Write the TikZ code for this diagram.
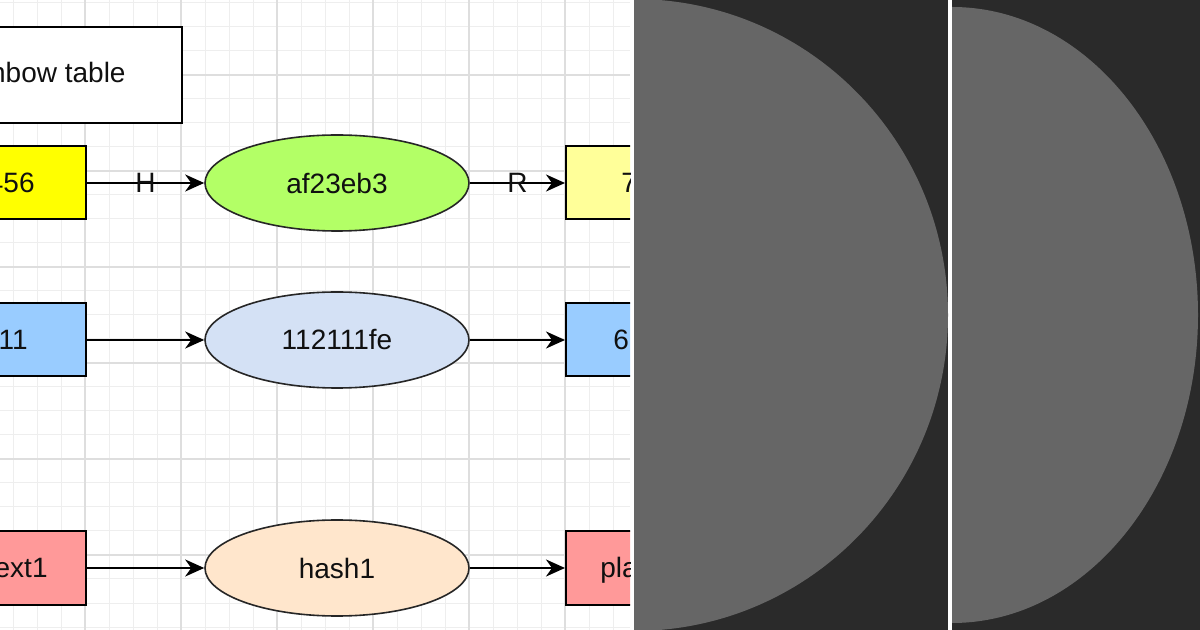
\documentclass[tikz,border=0pt]{standalone}
\usepackage{fontspec}
\setmainfont{Liberation Sans}
\usetikzlibrary{shapes.geometric,arrows.meta}
\definecolor{gridminor}{RGB}{238,238,238}
\definecolor{gridmajor}{RGB}{222,222,222}
\definecolor{yellowA}{HTML}{FFFF00}
\definecolor{yellowB}{HTML}{FFFF99}
\definecolor{greenA}{HTML}{B3FF66}
\definecolor{blueA}{HTML}{99CCFF}
\definecolor{blueB}{HTML}{D4E1F5}
\definecolor{pinkA}{HTML}{FF9999}
\definecolor{peachA}{HTML}{FFE6CC}
\definecolor{darkbg}{HTML}{2A2A2A}
\definecolor{semigray}{HTML}{666666}
\definecolor{inkc}{HTML}{101010}
\begin{document}
\begin{tikzpicture}[x=0.5pt,y=-0.5pt,
  box/.style={draw=black, line width=1pt, minimum width=74pt, minimum height=36.5pt, inner sep=0pt},
  oval/.style={ellipse, draw=black!85, line width=0.8pt, minimum width=132pt, minimum height=48pt, inner sep=0pt,
    font=\fontsize{14pt}{16pt}\selectfont, text=inkc},
  txt/.style={font=\fontsize{14pt}{16pt}\selectfont, text=inkc, inner sep=0pt},
  arr/.style={line width=1.1pt, -{Stealth[length=9.5pt,width=8.5pt,inset=3pt]}},
  lbl/.style={font=\fontsize{14pt}{16pt}\selectfont, inner sep=0pt, text=inkc}
]
\useasboundingbox (0,0) rectangle (1200,630);
\fill[white] (0,0) rectangle (1200,630);

% left panel
\begin{scope}
\clip (0,0) rectangle (630,630);
\foreach \g in {13,37,...,630} \draw[gridminor, line width=0.5pt] (\g,0) -- (\g,630);
\foreach \g in {3,27,...,630} \draw[gridminor, line width=0.5pt] (0,\g) -- (630,\g);
\foreach \g in {85,181,...,630} \draw[gridmajor, line width=0.6pt] (\g,0) -- (\g,630);
\foreach \g in {75,171,...,630} \draw[gridmajor, line width=0.6pt] (0,\g) -- (630,\g);

% title box
\node[draw=black, line width=1pt, fill=white, minimum width=137.5pt, minimum height=48pt, inner sep=0pt] (title) at (44,75) {};
\node[txt, anchor=base east] (titletxt) at (126,83) {rainbow table};

% row 1
\node[box, fill=yellowA] (a1) at (12,183) {};
\node[txt, anchor=base east] (a1t) at (35,193) {456};
\node[oval, fill=greenA] (e1) at (337,183) {af23eb3};
\node[box, fill=yellowB] (c1) at (640,183) {};
\node[txt, anchor=base west] (c1t) at (621,193) {7};
\draw[arr] (a1.east) -- (e1.west) node[lbl, midway] (h1) {H};
\draw[arr] (e1.east) -- (c1.west) node[lbl, midway] (r1) {R};

% row 2
\node[box, fill=blueA] (a2) at (12,340) {};
\node[txt, anchor=base east] (a2t) at (28,350) {11};
\node[oval, fill=blueB] (e2) at (337,340) {112111fe};
\node[box, fill=blueA] (c2) at (640,340) {};
\node[txt, anchor=base west] (c2t) at (613,350) {6};
\draw[arr] (a2.east) -- (e2.west);
\draw[arr] (e2.east) -- (c2.west);

% row 3
\node[box, fill=pinkA] (a3) at (12,568) {};
\node[txt, anchor=base east] (a3t) at (48,578) {ext1};
\node[oval, fill=peachA] (e3) at (337,568) {hash1};
\node[box, fill=pinkA] (c3) at (640,568) {};
\node[txt, anchor=base west] (c3t) at (600,578) {pla};
\draw[arr] (a3.east) -- (e3.west);
\draw[arr] (e3.east) -- (c3.west);
\end{scope}

% dark panel 1
\fill[darkbg] (634,0) rectangle (948,630);
\begin{scope}
\clip (634,0) rectangle (948,630);
\fill[semigray] (634,315) ellipse [x radius=157pt, y radius=158pt];
\end{scope}

% dark panel 2
\fill[darkbg] (952,0) rectangle (1200,630);
\begin{scope}
\clip (952,0) rectangle (1200,630);
\fill[semigray] (952,315) ellipse [x radius=123pt, y radius=154pt];
\end{scope}
\end{tikzpicture}
\end{document}
